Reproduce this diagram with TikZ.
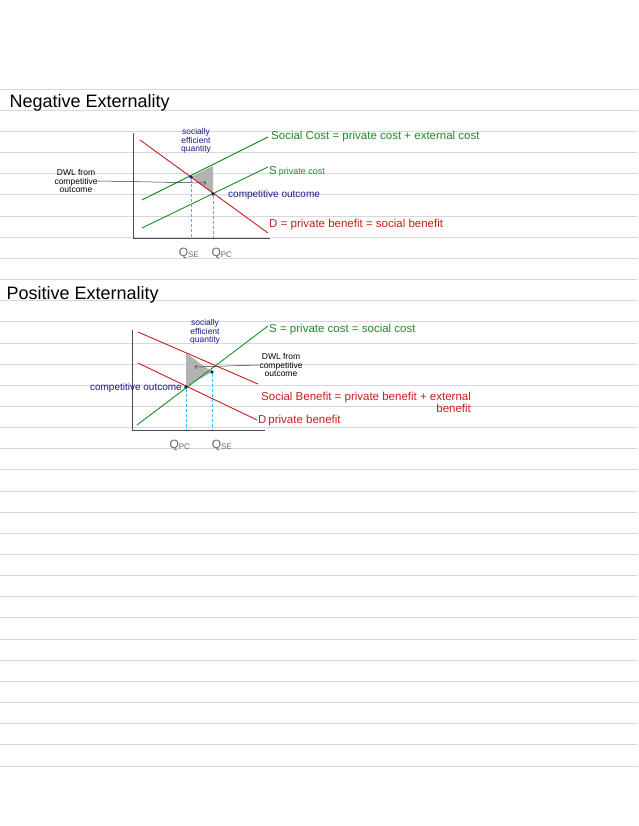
\documentclass[tikz,border=0pt]{standalone}
\usepackage{fontspec}
\setmainfont{Liberation Sans}
\begin{document}
\definecolor{gr}{RGB}{30,140,40}
\definecolor{rd}{RGB}{200,30,30}
\definecolor{bl}{RGB}{25,25,130}
\definecolor{cy}{RGB}{30,200,235}
\definecolor{rule}{RGB}{215,215,220}
\begin{tikzpicture}[x=1pt,y=-1pt,
  gl/.style={gr,line width=0.9pt}, rl/.style={rd,line width=0.9pt},
  ax/.style={black!70,line width=0.8pt},
  dsh/.style={cy,dash pattern=on 3pt off 2pt,line width=1pt},
  dot/.style={circle,fill=bl,inner sep=1.3pt},
  lab/.style={font=\fontsize{11.5}{12}\selectfont,inner sep=1pt},
  sm/.style={font=\fontsize{8.5}{8.5}\selectfont,align=center,inner sep=0.5pt}]
\useasboundingbox (0,0) rectangle (638,826);
\fill[white] (0,0) rectangle (638,826);
\foreach \k in {0,...,32} \draw[rule,line width=0.6pt] (0,{89+21.15*\k}) -- (638,{89+21.15*\k});
% ---- Negative
\node[anchor=west,font=\fontsize{18}{18}\selectfont] (t1) at (6,103) {Negative Externality};
\coordinate (o1) at (133,238);
\coordinate (y1) at (133,133);
\coordinate (x1) at (270,238);
\draw[ax] (y1) -- (o1) -- (x1);
\fill[gray!60] (191,177) -- (213,166) -- (213,194) -- cycle;
\coordinate (sc0) at (142,200); \coordinate (sc1) at (268,137);
\coordinate (pc0) at (142,228); \coordinate (pc1) at (268,167);
\coordinate (d0) at (140,140); \coordinate (d1) at (268,233);
\draw[gl] (sc0) -- (sc1);
\draw[gl] (pc0) -- (pc1);
\draw[rl] (d0) -- (d1);
\node[dot] (se1) at (191,177) {};
\node[dot] (pe1) at (213,194) {};
\coordinate (se1b) at (191,238); \coordinate (pe1b) at (213,238);
\draw[dsh] (se1) -- (se1b);
\draw[dsh] (pe1) -- (pe1b);
\node[font=\fontsize{12}{12}\selectfont,text=black!60] (qse1) at (189,253) {Q\textsubscript{SE}};
\node[font=\fontsize{12}{12}\selectfont,text=black!60] (qpc1) at (222,253) {Q\textsubscript{PC}};
\node[sm,text=bl] (sq1) at (196,141) {socially\\efficient\\quantity};
\node[sm] (dwl1) at (76,181) {DWL from\\competitive\\outcome};
\coordinate (ar1) at (206,183);
\draw[->,black!80,line width=0.5pt] (dwl1.east) -- (ar1);
\node[lab,anchor=west,text=gr] (l1) at (270,137) {Social Cost = private cost + external cost};
\node[lab,anchor=west,text=gr] (l2) at (268,171) {S\,{\fontsize{9}{9}\selectfont private cost}};
\node[lab,anchor=west,text=bl,font=\fontsize{10}{10}\selectfont] (l3) at (227,195) {competitive outcome};
\node[lab,anchor=west,text=rd] (l4) at (268,225) {D = private benefit = social benefit};
% ---- Positive
\node[anchor=west,font=\fontsize{18}{18}\selectfont] (t2) at (3,295) {Positive Externality};
\coordinate (o2) at (132,430);
\coordinate (y2) at (132,330);
\coordinate (x2) at (265,430);
\draw[ax] (y2) -- (o2) -- (x2);
\fill[gray!60] (186,387) -- (186,353) -- (212,372) -- cycle;
\coordinate (s0) at (137,425); \coordinate (s1) at (268,326);
\coordinate (sb0) at (138,332); \coordinate (sb1) at (258,384);
\coordinate (dd0) at (138,363); \coordinate (dd1) at (257,420);
\draw[gl] (s0) -- (s1);
\draw[rl] (sb0) -- (sb1);
\draw[rl] (dd0) -- (dd1);
\node[dot] (se2) at (212,372) {};
\node[dot] (pe2) at (186,387) {};
\coordinate (se2b) at (212,430); \coordinate (pe2b) at (186,430);
\draw[dsh] (se2) -- (se2b);
\draw[dsh] (pe2) -- (pe2b);
\node[font=\fontsize{12}{12}\selectfont,text=black!60] (qpc2) at (180,445) {Q\textsubscript{PC}};
\node[font=\fontsize{12}{12}\selectfont,text=black!60] (qse2) at (222,445) {Q\textsubscript{SE}};
\node[sm,text=bl] (sq2) at (205,332) {socially\\efficient\\quantity};
\node[sm] (dwl2) at (281,365) {DWL from\\competitive\\outcome};
\coordinate (ar2) at (195,367);
\draw[->,black!80,line width=0.5pt] (dwl2.west) -- (ar2);
\node[lab,anchor=east,text=bl,font=\fontsize{10}{10}\selectfont] (c2) at (183,388) {competitive outcome};
\node[lab,anchor=west,text=gr] (m1) at (268,330) {S = private cost = social cost};
\node[lab,anchor=west,text=rd,align=right] (m2) at (260,402) {Social Benefit = private benefit + external\\benefit};
\node[lab,anchor=west,text=rd] (m3) at (257,421) {D\,private benefit};
\end{tikzpicture}
\end{document}
